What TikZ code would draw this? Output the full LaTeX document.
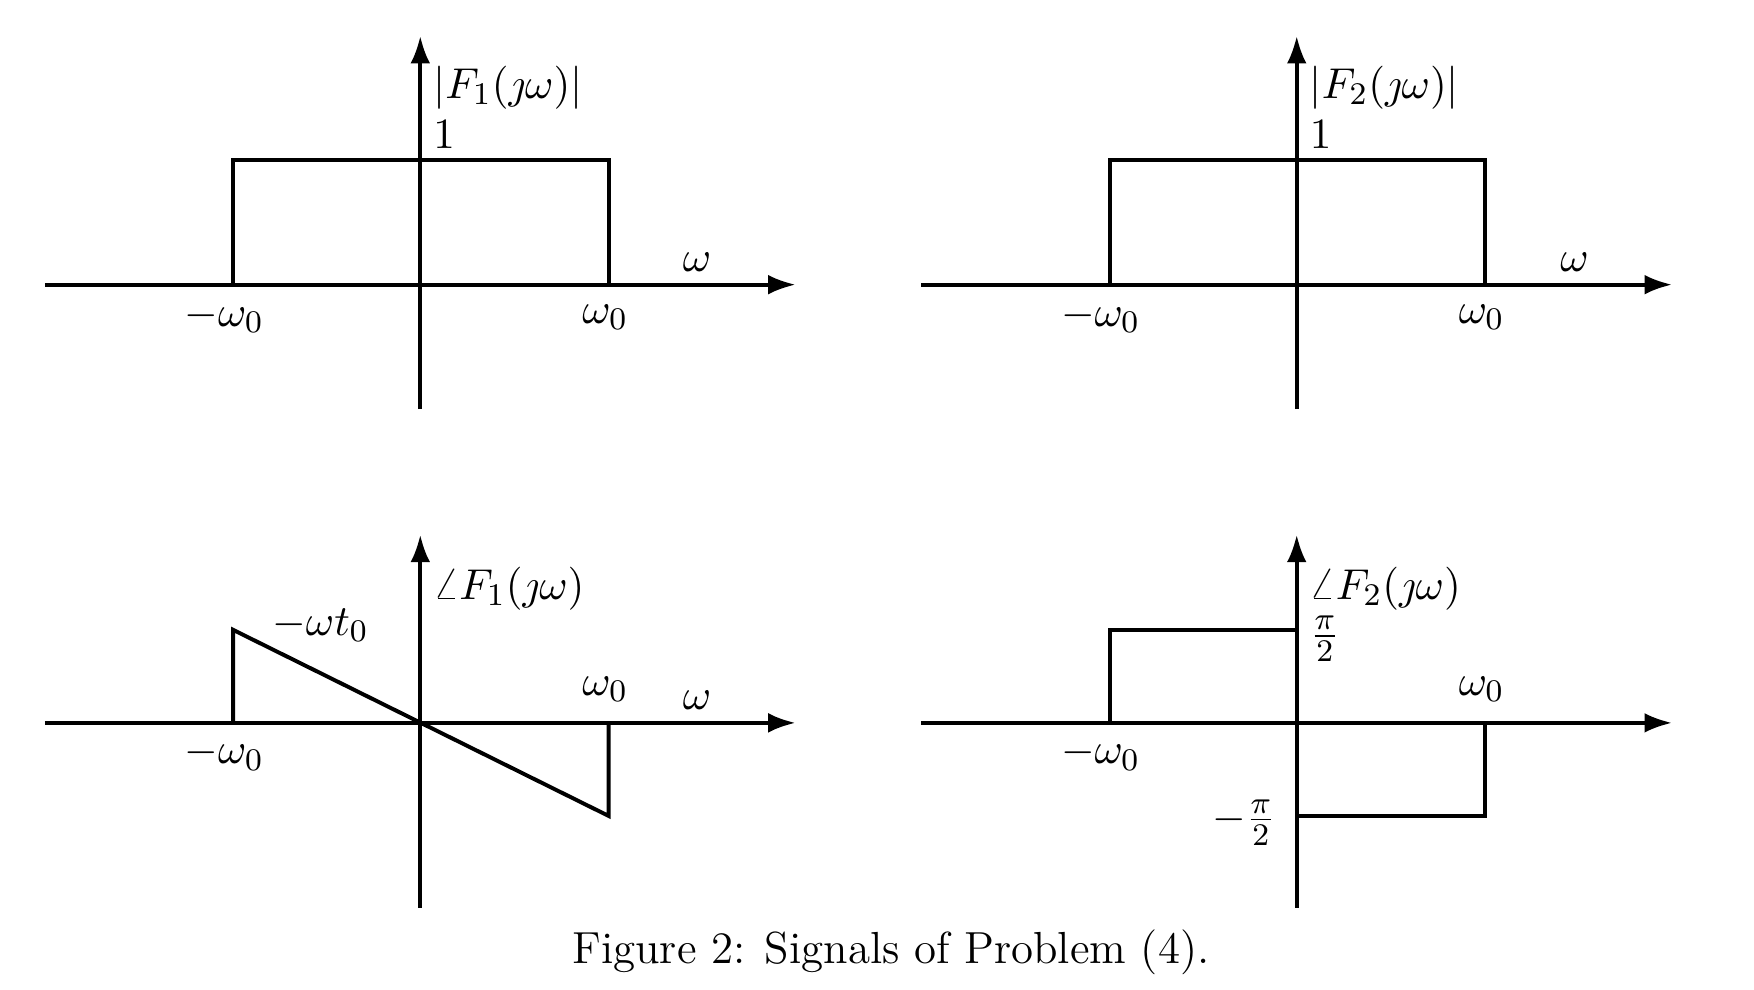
\documentclass[tikz,border=0pt]{standalone}
\usetikzlibrary{arrows.meta}
\begin{document}
\begin{tikzpicture}[x=0.01cm,y=-0.01cm,
  ax/.style={line width=1pt,-{Latex[length=7pt,width=5pt]}},
  sig/.style={line width=1pt},
  lab/.style={inner sep=0pt,font=\fontsize{11.4pt}{13pt}\selectfont}]
\useasboundingbox (0,0) rectangle (1565,883);
% top-left
\coordinate (a1l) at (40,254); \coordinate (a1r) at (710,254);
\coordinate (a1b) at (375,365); \coordinate (a1t) at (375,32);
\draw[ax] (a1l) -- (a1r); \draw[ax] (a1b) -- (a1t);
\coordinate (r1a) at (208,254); \coordinate (r1b) at (208,143);
\coordinate (r1c) at (543,143); \coordinate (r1d) at (543,254);
\draw[sig] (r1a) -- (r1b) -- (r1c) -- (r1d);
\node[lab,anchor=west] (t1) at (386,78) {$|F_1(\jmath\omega)|$};
\node[lab,anchor=west] (o1) at (386,120) {$1$};
\node[lab] (w1) at (622,234) {$\omega$};
\node[lab] (m1) at (200,283) {$-\omega_0$};
\node[lab] (p1) at (540,283) {$\omega_0$};
% top-right
\coordinate (a2l) at (822,254); \coordinate (a2r) at (1492,254);
\coordinate (a2b) at (1157,365); \coordinate (a2t) at (1157,32);
\draw[ax] (a2l) -- (a2r); \draw[ax] (a2b) -- (a2t);
\coordinate (r2a) at (990,254); \coordinate (r2b) at (990,143);
\coordinate (r2c) at (1325,143); \coordinate (r2d) at (1325,254);
\draw[sig] (r2a) -- (r2b) -- (r2c) -- (r2d);
\node[lab,anchor=west] (t2) at (1168,78) {$|F_2(\jmath\omega)|$};
\node[lab,anchor=west] (o2) at (1168,120) {$1$};
\node[lab] (w2) at (1405,234) {$\omega$};
\node[lab] (m2) at (982,283) {$-\omega_0$};
\node[lab] (p2) at (1322,283) {$\omega_0$};
% bottom-left
\coordinate (a3l) at (40,645); \coordinate (a3r) at (710,645);
\coordinate (a3b) at (375,810); \coordinate (a3t) at (375,477);
\draw[ax] (a3l) -- (a3r); \draw[ax] (a3b) -- (a3t);
\coordinate (s3a) at (208,645); \coordinate (s3b) at (208,562);
\coordinate (s3c) at (543,728); \coordinate (s3d) at (543,645);
\draw[sig] (s3a) -- (s3b) -- (s3c) -- (s3d);
\node[lab,anchor=west] (t3) at (386,525) {$\angle F_1(\jmath\omega)$};
\node[lab] (wt) at (286,558) {$-\omega t_0$};
\node[lab] (p3) at (540,615) {$\omega_0$};
\node[lab] (w3) at (622,625) {$\omega$};
\node[lab] (m3) at (200,673) {$-\omega_0$};
% bottom-right
\coordinate (a4l) at (822,645); \coordinate (a4r) at (1492,645);
\coordinate (a4b) at (1157,810); \coordinate (a4t) at (1157,477);
\draw[ax] (a4l) -- (a4r); \draw[ax] (a4b) -- (a4t);
\coordinate (u1) at (990,645); \coordinate (u2) at (990,562); \coordinate (u3) at (1157,562);
\coordinate (d1) at (1157,728); \coordinate (d2) at (1325,728); \coordinate (d3) at (1325,645);
\draw[sig] (u1) -- (u2) -- (u3);
\draw[sig] (d1) -- (d2) -- (d3);
\node[lab,anchor=west] (t4) at (1168,525) {$\angle F_2(\jmath\omega)$};
\node[lab] (pi1) at (1182,570) {$\frac{\pi}{2}$};
\node[lab] (pi2) at (1110,734) {$-\frac{\pi}{2}$};
\node[lab] (p4) at (1322,615) {$\omega_0$};
\node[lab] (m4) at (982,673) {$-\omega_0$};
% caption
\node[lab] (cap) at (795,850) {Figure 2: Signals of Problem (4).};
\end{tikzpicture}
\end{document}
